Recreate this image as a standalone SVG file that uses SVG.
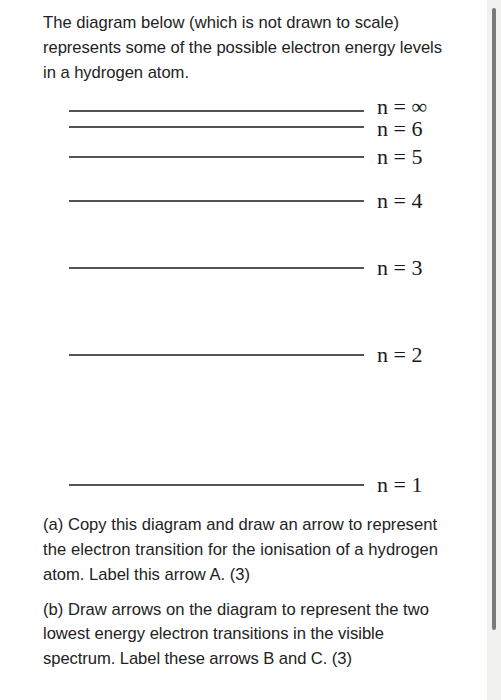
<svg xmlns="http://www.w3.org/2000/svg" width="501" height="700" viewBox="0 0 501 700">
<style>
.body{font-family:"Liberation Sans","Open Sans",Arial,sans-serif;font-size:16.6px;fill:#222}
.lvl{stroke:#1a1a1a;stroke-width:1.6}
.lab{font-family:"Liberation Serif","Times New Roman",serif;font-size:22px;fill:#1a1a1a}
</style>
<rect width="501" height="700" fill="#ffffff"/>
<rect x="487" y="0" width="14" height="700" fill="#f1f1f0"/>
<rect x="492" y="8" width="4" height="622" rx="2" fill="#7a7a7a"/>
<g id="intro" class="body">
<text x="43" y="28" textLength="356">The diagram below (which is not drawn to scale)</text>
<text x="43" y="53" textLength="399">represents some of the possible electron energy levels</text>
<text x="43" y="78" textLength="146">in a hydrogen atom.</text>
</g>
<g id="level-inf"><line class="lvl" x1="69" y1="111" x2="364" y2="111"/><text class="lab" x="377" y="114">n = ∞</text></g>
<g id="level-6"><line class="lvl" x1="69" y1="127" x2="364" y2="127"/><text class="lab" x="377" y="136">n = 6</text></g>
<g id="level-5"><line class="lvl" x1="69" y1="157" x2="364" y2="157"/><text class="lab" x="377" y="164">n = 5</text></g>
<g id="level-4"><line class="lvl" x1="69" y1="201" x2="364" y2="201"/><text class="lab" x="377" y="208">n = 4</text></g>
<g id="level-3"><line class="lvl" x1="69" y1="268" x2="364" y2="268"/><text class="lab" x="377" y="275">n = 3</text></g>
<g id="level-2"><line class="lvl" x1="69" y1="355" x2="364" y2="355"/><text class="lab" x="377" y="362">n = 2</text></g>
<g id="level-1"><line class="lvl" x1="69" y1="485" x2="364" y2="485"/><text class="lab" x="377" y="492">n = 1</text></g>
<g id="connectors"></g>
<g id="questions" class="body">
<text x="43" y="530" textLength="394">(a) Copy this diagram and draw an arrow to represent</text>
<text x="43" y="555" textLength="395">the electron transition for the ionisation of a hydrogen</text>
<text x="43" y="580" textLength="207">atom. Label this arrow A. (3)</text>
<text x="43" y="615" textLength="386">(b) Draw arrows on the diagram to represent the two</text>
<text x="43" y="639" textLength="341">lowest energy electron transitions in the visible</text>
<text x="43" y="664" textLength="309">spectrum. Label these arrows B and C. (3)</text>
</g>
</svg>
